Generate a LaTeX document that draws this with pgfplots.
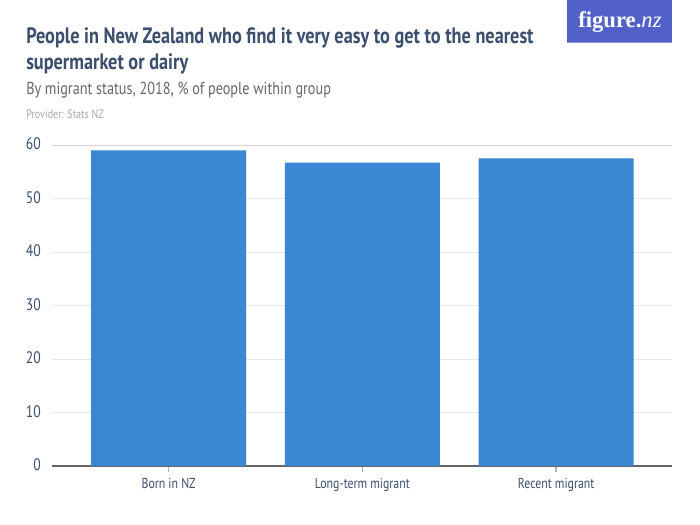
\documentclass[border=0pt]{standalone}
\usepackage{pgfplots}
\usepackage{fontspec}
\pgfplotsset{compat=1.18}
\setmainfont{PT Sans}
\newfontfamily\cond[FakeStretch=0.82]{PT Sans}
\newfontfamily\logof{Liberation Serif}
\definecolor{titlec}{HTML}{3B4E6E}
\definecolor{subc}{HTML}{666666}
\definecolor{provc}{HTML}{A8A8A8}
\definecolor{barc}{HTML}{3A88D4}
\definecolor{logoc}{HTML}{5261C8}
\begin{document}
\begin{tikzpicture}[x=0.75pt,y=0.75pt]
\useasboundingbox (0,0) rectangle (700,525);
\fill[white] (0,0) rectangle (700,525);
\fill[logoc] (567,525) rectangle (672,483);
\fill[logoc!70!white] (567,483) rectangle (672,482);
\node[anchor=base west,inner sep=0pt,text=white] at (578,497) {\logof\fontsize{17pt}{18pt}\selectfont\textbf{figure.}\textit{nz}};
\node[anchor=base west,inner sep=0pt,text=titlec] at (26,481) {\cond\fontsize{16.7pt}{18pt}\selectfont\bfseries People in New Zealand who find it very easy to get to the nearest};
\node[anchor=base west,inner sep=0pt,text=titlec] at (26,455) {\cond\fontsize{16.7pt}{18pt}\selectfont\bfseries supermarket or dairy};
\node[anchor=base west,inner sep=0pt,text=subc] at (26,430) {\cond\fontsize{13pt}{16pt}\selectfont By migrant status, 2018, \% of people within group};
\node[anchor=base west,inner sep=0pt,text=provc] at (26,406) {\cond\fontsize{9.2pt}{10pt}\selectfont Provider: Stats NZ};
\begin{axis}[
  at={(39.3pt,44.25pt)},anchor=south west,
  scale only axis,width=465pt,height=240.4pt,
  xmin=-0.6,xmax=2.6,ymin=0,ymax=60,
  clip=false,
  axis x line*=bottom,axis y line=none,
  ybar,bar width=0.8,bar shift=0pt,
  xtick={0,1,2},xticklabels={Born in NZ,Long-term migrant,Recent migrant},
  ytick=\empty,
  x axis line style={draw=black!60,line width=0.8pt,-},
  x tick style={draw=black!30,line width=1.2pt},
  major tick length=4.5pt,
  tick align=outside,
  xtick pos=bottom,
  x tick label style={font=\cond\fontsize{10.8pt}{12pt}\selectfont,text=titlec,yshift=-1.5pt},
]
\draw[black!9,line width=0.9pt] (axis cs:-0.6,10) -- (axis cs:2.6,10);
\draw[black!9,line width=0.9pt] (axis cs:-0.6,20) -- (axis cs:2.6,20);
\draw[black!9,line width=0.9pt] (axis cs:-0.6,30) -- (axis cs:2.6,30);
\draw[black!9,line width=0.9pt] (axis cs:-0.6,40) -- (axis cs:2.6,40);
\draw[black!9,line width=0.9pt] (axis cs:-0.6,50) -- (axis cs:2.6,50);
\draw[black!17,line width=0.9pt] (axis cs:-0.6,60) -- (axis cs:2.6,60);
\addplot[fill=barc,draw=none] coordinates {(0,59.1) (1,56.8) (2,57.6)};
\foreach \v in {0,10,20,30,40,50,60}{
  \edef\tmp{\noexpand\node[anchor=east,inner sep=0pt,text=titlec,font=\noexpand\cond\noexpand\fontsize{12.5pt}{14pt}\noexpand\selectfont] at (axis cs:-0.6,\v) [xshift=-8.5pt,yshift=1pt] {\v};}
  \tmp
}
\end{axis}
\end{tikzpicture}
\end{document}
